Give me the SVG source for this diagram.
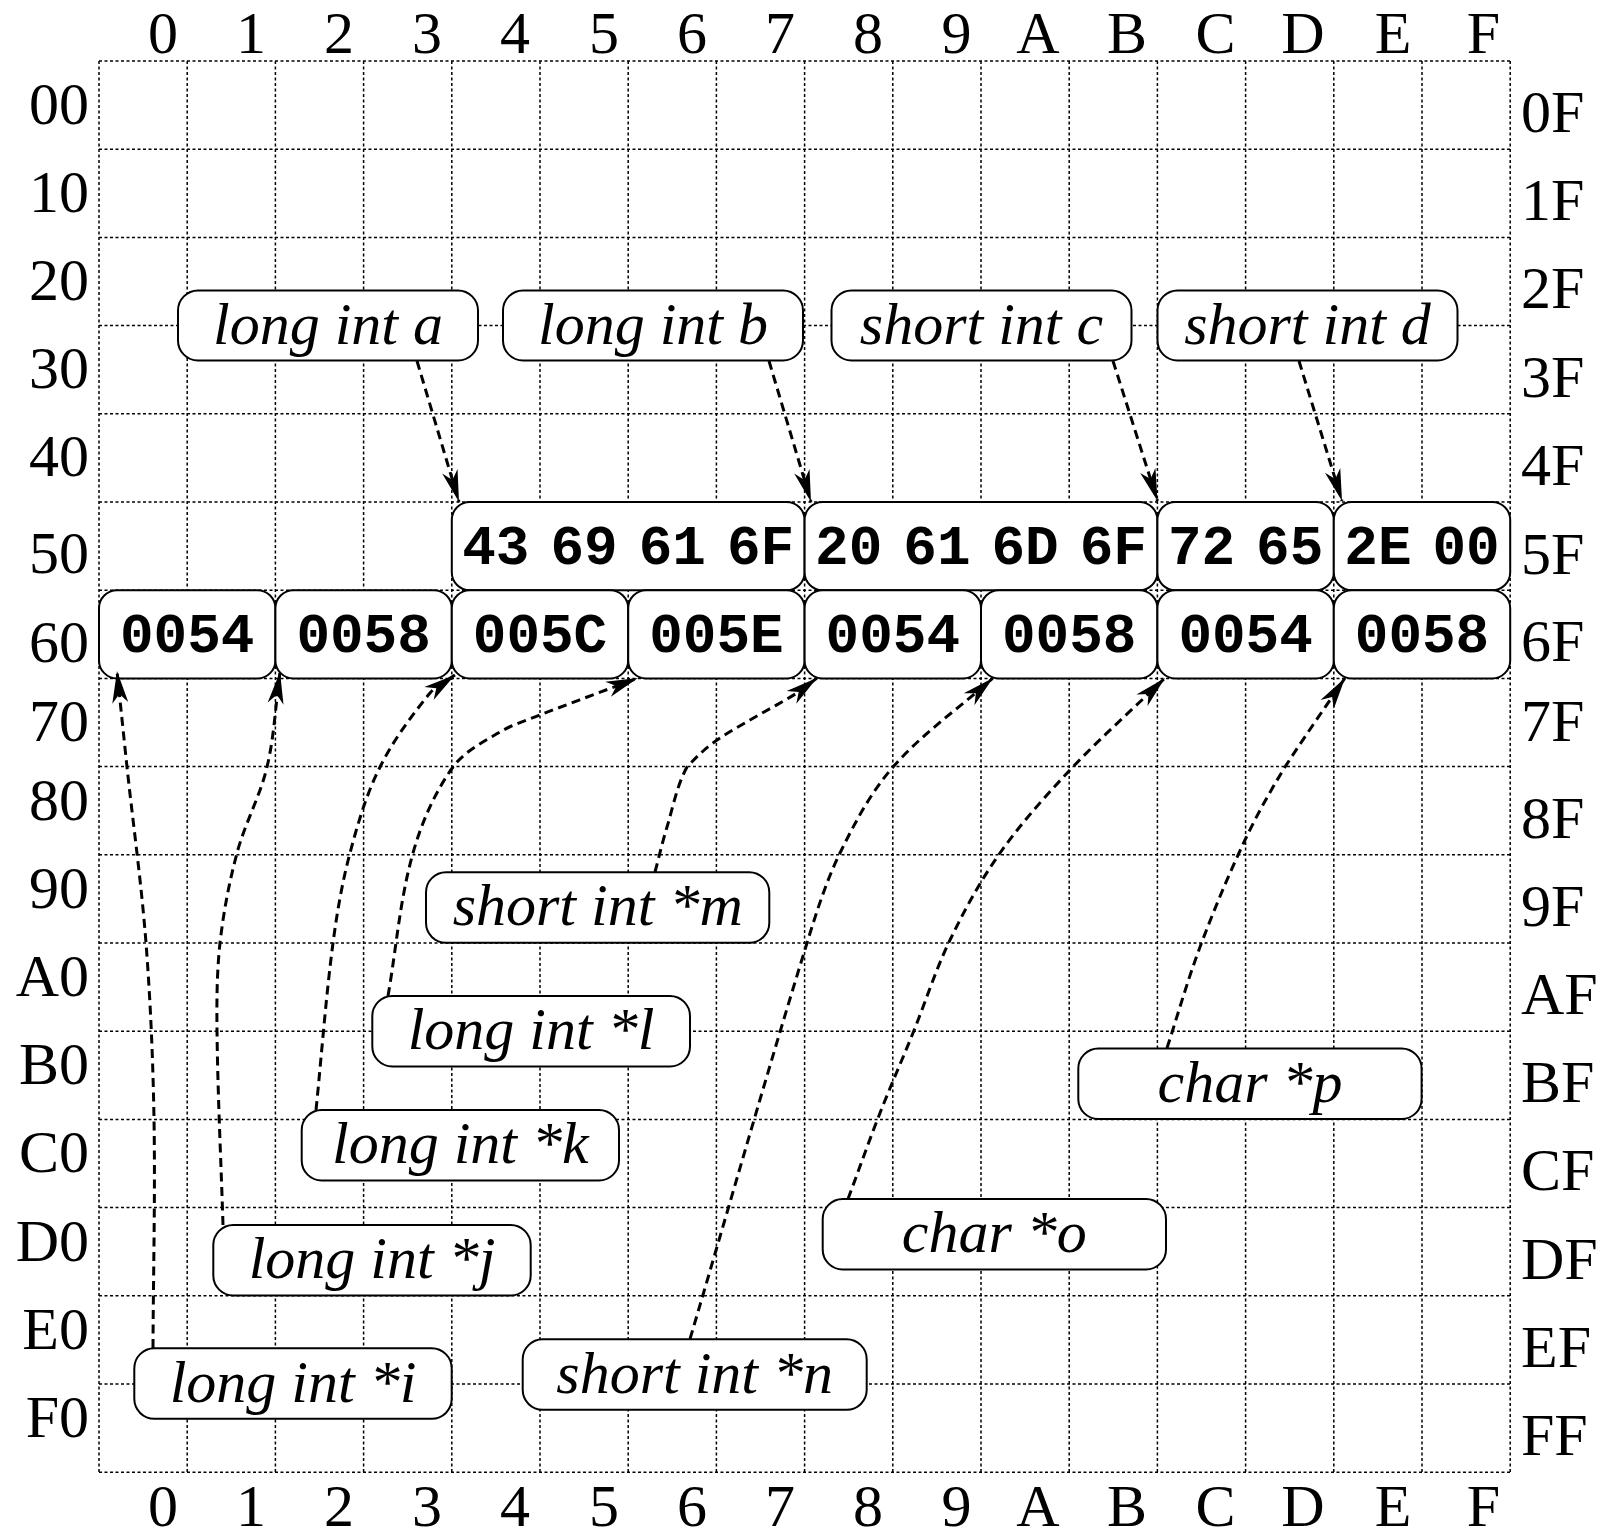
<svg xmlns="http://www.w3.org/2000/svg" width="1615" height="1537" viewBox="0 0 1615 1537">
<style>
.bg{fill:#fff}
.grid{fill:none;stroke:#000;stroke-width:1.5;stroke-dasharray:3 2.5}
.lbl{font-family:"Liberation Serif","Times New Roman",serif;font-size:60px;fill:#000}
.l{text-anchor:end}
.r{text-anchor:start}
.c{text-anchor:middle}
.box{fill:#fff;stroke:#000;stroke-width:2}
.var{font-family:"Liberation Serif","Times New Roman",serif;font-style:italic;font-size:60px;text-anchor:middle;fill:#000}
.hex{font-family:"Liberation Mono","Courier New",monospace;font-weight:bold;font-size:56px;text-anchor:middle;word-spacing:-12.6px;fill:#000}
.ptr{fill:none;stroke:#000;stroke-width:3;stroke-dasharray:9 5.5;marker-end:url(#ah)}
</style>
<defs>
<marker id="ah" markerUnits="userSpaceOnUse" viewBox="-34 -9 36 18" markerWidth="36" markerHeight="18" refX="0" refY="0" orient="auto">
<path d="M0,0 L-32,-8 L-23,0 L-32,8 Z" fill="#000"/>
</marker>
</defs>
<rect class="bg" x="0" y="0" width="1615" height="1537"/>
<g id="grid">
<path class="grid" d="M99 61V1472.2M187.2 61V1472.2M275.4 61V1472.2M363.6 61V1472.2M451.8 61V1472.2M540 61V1472.2M628.2 61V1472.2M716.4 61V1472.2M804.6 61V1472.2M892.8 61V1472.2M981 61V1472.2M1069.2 61V1472.2M1157.4 61V1472.2M1245.6 61V1472.2M1333.8 61V1472.2M1422 61V1472.2M1510.2 61V1472.2M99 61H1510.2M99 149.2H1510.2M99 237.4H1510.2M99 325.6H1510.2M99 413.8H1510.2M99 502H1510.2M99 590.2H1510.2M99 678.4H1510.2M99 766.6H1510.2M99 854.8H1510.2M99 943H1510.2M99 1031.2H1510.2M99 1119.4H1510.2M99 1207.6H1510.2M99 1295.8H1510.2M99 1384H1510.2M99 1472.2H1510.2"/>
</g>
<g id="column-labels-top" class="lbl c">
<text x="163" y="53">0</text><text x="251" y="53">1</text><text x="339" y="53">2</text><text x="427" y="53">3</text>
<text x="515" y="53">4</text><text x="604" y="53">5</text><text x="692" y="53">6</text><text x="780" y="53">7</text>
<text x="868" y="53">8</text><text x="956.5" y="53">9</text><text x="1038" y="53">A</text><text x="1127" y="53">B</text>
<text x="1215.5" y="53">C</text><text x="1303" y="53">D</text><text x="1393" y="53">E</text><text x="1483.5" y="53">F</text>
</g>
<g id="column-labels-bottom" class="lbl c">
<text x="163" y="1526">0</text><text x="251" y="1526">1</text><text x="339" y="1526">2</text><text x="427" y="1526">3</text>
<text x="515" y="1526">4</text><text x="604" y="1526">5</text><text x="692" y="1526">6</text><text x="780" y="1526">7</text>
<text x="868" y="1526">8</text><text x="956.5" y="1526">9</text><text x="1038" y="1526">A</text><text x="1127" y="1526">B</text>
<text x="1215.5" y="1526">C</text><text x="1303" y="1526">D</text><text x="1393" y="1526">E</text><text x="1483.5" y="1526">F</text>
</g>
<g id="row-labels-left" class="lbl l">
<text x="89" y="123.5">00</text><text x="89" y="211.7">10</text><text x="89" y="299.9">20</text><text x="89" y="388.1">30</text>
<text x="89" y="476.3">40</text><text x="89" y="573.3">50</text><text x="89" y="661.5">60</text><text x="89" y="741">70</text>
<text x="89" y="819.6">80</text><text x="89" y="907.8">90</text><text x="89" y="996">A0</text><text x="89" y="1084.2">B0</text>
<text x="89" y="1172.4">C0</text><text x="89" y="1260.6">D0</text><text x="89" y="1348.8">E0</text><text x="89" y="1437">F0</text>
</g>
<g id="row-labels-right" class="lbl r">
<text x="1521" y="132">0F</text><text x="1521" y="220.2">1F</text><text x="1521" y="308.4">2F</text><text x="1521" y="396.6">3F</text>
<text x="1521" y="484.8">4F</text><text x="1521" y="574">5F</text><text x="1521" y="661.2">6F</text><text x="1521" y="741">7F</text>
<text x="1521" y="837.6">8F</text><text x="1521" y="925.8">9F</text><text x="1521" y="1014">AF</text><text x="1521" y="1102.2">BF</text>
<text x="1521" y="1190.4">CF</text><text x="1521" y="1278.6">DF</text><text x="1521" y="1366.8">EF</text><text x="1521" y="1455">FF</text>
</g>
<g id="mem-54-57"><rect class="box" x="451.8" y="502" width="352.8" height="88.2" rx="18"/><text class="hex" x="628.2" y="564">43 69 61 6F</text></g>
<g id="mem-58-5B"><rect class="box" x="804.6" y="502" width="352.8" height="88.2" rx="18"/><text class="hex" x="981" y="564">20 61 6D 6F</text></g>
<g id="mem-5C-5D"><rect class="box" x="1157.4" y="502" width="176.4" height="88.2" rx="18"/><text class="hex" x="1245.6" y="564">72 65</text></g>
<g id="mem-5E-5F"><rect class="box" x="1333.8" y="502" width="176.4" height="88.2" rx="18"/><text class="hex" x="1422" y="564">2E 00</text></g>
<g id="mem-60"><rect class="box" x="99" y="590.2" width="176.4" height="88.2" rx="18"/><text class="hex" x="187.2" y="652">0054</text></g>
<g id="mem-62"><rect class="box" x="275.4" y="590.2" width="176.4" height="88.2" rx="18"/><text class="hex" x="363.6" y="652">0058</text></g>
<g id="mem-64"><rect class="box" x="451.8" y="590.2" width="176.4" height="88.2" rx="18"/><text class="hex" x="540" y="652">005C</text></g>
<g id="mem-66"><rect class="box" x="628.2" y="590.2" width="176.4" height="88.2" rx="18"/><text class="hex" x="716.4" y="652">005E</text></g>
<g id="mem-68"><rect class="box" x="804.6" y="590.2" width="176.4" height="88.2" rx="18"/><text class="hex" x="892.8" y="652">0054</text></g>
<g id="mem-6A"><rect class="box" x="981" y="590.2" width="176.4" height="88.2" rx="18"/><text class="hex" x="1069.2" y="652">0058</text></g>
<g id="mem-6C"><rect class="box" x="1157.4" y="590.2" width="176.4" height="88.2" rx="18"/><text class="hex" x="1245.6" y="652">0054</text></g>
<g id="mem-6E"><rect class="box" x="1333.8" y="590.2" width="176.4" height="88.2" rx="18"/><text class="hex" x="1422" y="652">0058</text></g>
<g id="var-a"><rect class="box" x="178" y="290.5" width="300" height="70" rx="20"/><text class="var" x="328" y="343.5">long int a</text></g>
<g id="var-b"><rect class="box" x="503" y="290.5" width="300" height="70" rx="20"/><text class="var" x="653" y="343.5">long int b</text></g>
<g id="var-c"><rect class="box" x="831.5" y="290.5" width="300" height="70" rx="20"/><text class="var" x="981.5" y="343.5">short int c</text></g>
<g id="var-d"><rect class="box" x="1157.5" y="290.5" width="300" height="70" rx="20"/><text class="var" x="1307.5" y="343.5">short int d</text></g>
<g id="var-m"><rect class="box" x="426" y="872.3" width="343.3" height="70.5" rx="20"/><text class="var" x="597.7" y="925">short int *m</text></g>
<g id="var-l"><rect class="box" x="372.3" y="996" width="317.7" height="70.5" rx="20"/><text class="var" x="531" y="1048.7">long int *l</text></g>
<g id="var-k"><rect class="box" x="301.7" y="1110" width="317.3" height="70.5" rx="20"/><text class="var" x="460.3" y="1163">long int *k</text></g>
<g id="var-j"><rect class="box" x="213.3" y="1225" width="317.4" height="70.5" rx="20"/><text class="var" x="372" y="1277.5">long int *j</text></g>
<g id="var-i"><rect class="box" x="134.3" y="1348.3" width="317.4" height="70.5" rx="20"/><text class="var" x="293" y="1401.5">long int *i</text></g>
<g id="var-n"><rect class="box" x="522.7" y="1339.3" width="344" height="70.5" rx="20"/><text class="var" x="694.7" y="1392.5">short int *n</text></g>
<g id="var-o"><rect class="box" x="822.7" y="1199" width="343.3" height="70.5" rx="20"/><text class="var" x="994.3" y="1252">char *o</text></g>
<g id="var-p"><rect class="box" x="1078.3" y="1048.5" width="343.3" height="70.5" rx="20"/><text class="var" x="1250" y="1101.5">char *p</text></g>
<g id="connectors">
<path class="ptr" d="M417,361 L459,502"/>
<path class="ptr" d="M769,361 L811,502"/>
<path class="ptr" d="M1113,361 L1157.5,501"/>
<path class="ptr" d="M1299,361 L1342,501"/>
<path class="ptr" d="M153,1348 C153.3,1271.7 155.3,1195.3 154,1119 C153,1060.3 150.5,1001.5 146,943 C141.5,884.2 133.3,825.6 127,767 C123.6,735 120.3,703 117,671"/>
<path class="ptr" d="M223,1225 C221,1160 217.7,1095 217,1030 C216.7,1001 216.8,971.8 220,943 C223.4,912.7 229.1,882.5 237,853 C244.8,823.6 260,796.6 267,767 C274.4,735.9 275.6,703.7 280,672"/>
<path class="ptr" d="M316,1110 C321.7,1054.3 325.7,998.5 333,943 C337,912.8 342.1,882.5 350,853 C357.8,823.6 366.4,794.2 380,767 C393.3,740.4 411.2,716.1 430,693 C436.5,685 446.6,681 455,675"/>
<path class="ptr" d="M388,996 C396.3,948.3 399.8,899.6 413,853 C421.6,822.6 434.5,792.7 453,767 C464.4,751.2 483.3,742 500,732 C512.4,724.6 526.5,720.3 540,715 C572.5,702.3 605.4,690.3 638,678"/>
<path class="ptr" d="M655,872 C659,857 662.5,841.8 667,827 C673.1,806.8 676.9,785.5 687,767 C696.8,756.7 703.5,750.1 713,743 C724.6,734.3 737.5,727.4 750,720 C765.5,710.8 781.7,702.6 797,693 C804,688.6 810.4,683 817,678"/>
<path class="ptr" d="M690,1339 C729,1207 766.4,1074.6 807,943 C816.4,912.4 826,881.7 840,853 C854.8,822.7 870.8,792.4 893,767 C922.3,733.4 959.7,707.7 993,678"/>
<path class="ptr" d="M848,1199 C858.7,1170.3 868.8,1141.5 880,1113 C890.5,1086.2 902.2,1059.7 913,1033 C925.5,1002 935.5,970.1 950,940 C964.5,909.9 980.7,880.3 1000,853 C1020.9,823.4 1045.2,796.4 1070,770 C1100.3,737.9 1133.3,708.7 1165,678"/>
<path class="ptr" d="M1167,1048 C1178,1014.3 1187.6,980.1 1200,947 C1213.6,910.8 1228.5,875 1245,840 C1256.8,815 1270.5,790.6 1285,767 C1304,737.5 1325,707.7 1345,678"/>
</g>
</svg>
